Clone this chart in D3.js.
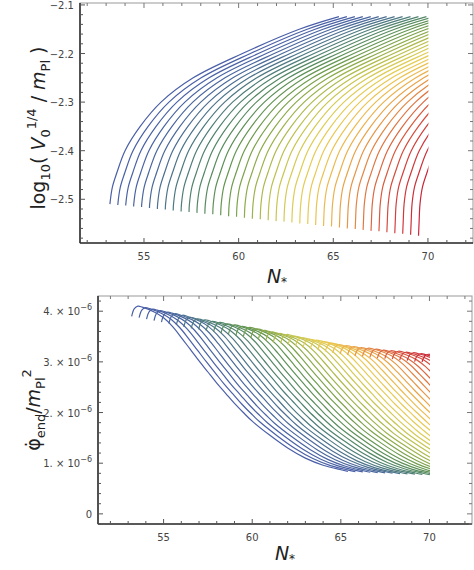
<!DOCTYPE html>
<html>
<head>
<meta charset="utf-8">
<script src="https://cdn.jsdelivr.net/npm/d3@7"></script>
<style>
  body { margin: 0; background: #fff; }
  text { font-family: "DejaVu Sans", sans-serif; }
</style>
</head>
<body>
<script>
// curve start offsets along N (one per curve, blue -> red)
const shifts = [0, 0.42, 0.84, 1.26, 1.68, 2.1, 2.52, 2.94, 3.36, 3.78, 4.2, 4.62, 5.04, 5.46, 5.88, 6.3,
  6.72, 7.14, 7.56, 7.98, 8.4, 8.82, 9.24, 9.66, 10.08, 10.5, 10.92, 11.34, 11.76, 12.18, 12.6, 13.02,
  13.44, 13.86, 14.28, 14.7, 15.12, 15.54, 15.96, 16.38];

// top panel: shape of the first curve [N, log10 V0^1/4]
const topShape = [[53.11, -2.585], [53.15, -2.55], [53.2, -2.51], [53.33, -2.475], [53.57, -2.445], [54.0, -2.4],
  [54.8, -2.35], [55.9, -2.3], [57.6, -2.25], [60.2, -2.2], [63.2, -2.15], [65.3, -2.124]];
// lowest value reached by each curve in top panel
const topBottom = [-2.51, -2.512, -2.513, -2.515, -2.516, -2.518, -2.52, -2.521, -2.523, -2.525, -2.526, -2.528,
  -2.53, -2.531, -2.533, -2.535, -2.536, -2.538, -2.54, -2.541, -2.543, -2.545, -2.546, -2.548, -2.55, -2.551,
  -2.553, -2.555, -2.556, -2.558, -2.56, -2.561, -2.563, -2.565, -2.566, -2.568, -2.57, -2.571, -2.573, -2.575];

// bottom panel: shape of the first curve [N, phidot (1e-6)]
const botShape = [[53.2, 3.9], [53.35, 4.05], [53.55, 4.1], [53.8, 4.08], [54.5, 3.98], [55, 3.87], [55.5, 3.7],
  [56, 3.48], [56.5, 3.25], [57, 3.02], [57.5, 2.8], [58, 2.58], [58.5, 2.38], [59, 2.18], [59.5, 2.0], [60, 1.83],
  [61, 1.55], [62, 1.3], [63, 1.1], [64, 0.96], [65, 0.87], [65.4, 0.84]];
// hook peak of each curve in bottom panel
const botPeak = [4.1, 4.07, 4.04, 4.01, 3.98, 3.95, 3.92, 3.88, 3.85, 3.83, 3.8, 3.78, 3.75, 3.73, 3.7, 3.68,
  3.65, 3.62, 3.59, 3.56, 3.54, 3.51, 3.48, 3.45, 3.43, 3.4, 3.37, 3.34, 3.32, 3.3, 3.28, 3.27, 3.25, 3.23,
  3.22, 3.21, 3.19, 3.18, 3.16, 3.15];

const xTicks = [55, 60, 65, 70];
const topYTicks = [-2.1, -2.2, -2.3, -2.4, -2.5];
const botYTicks = [0, 1, 2, 3, 4];

const colour = d3.interpolateRgbBasis(["#4a5fa8", "#4a66a2", "#4f8470", "#5f9548", "#bcc24c", "#f0d65a", "#eaa848", "#d8503e", "#c8283a"]);
const n = shifts.length;

const svg = d3.select("body").append("svg").attr("width", 474).attr("height", 570);

function panel(box, xDom, yDom, yTicks, fmt, curves, id) {
  const x = d3.scaleLinear().domain(xDom).range([box.l, box.r]);
  const y = d3.scaleLinear().domain(yDom).range([box.b, box.t]);
  const g = svg.append("g");
  g.append("clipPath").attr("id", id).append("rect")
    .attr("x", box.l).attr("y", box.t).attr("width", x(70) - box.l + 0.5).attr("height", box.b - box.t);
  g.append("rect").attr("x", box.l).attr("y", box.t).attr("width", box.r - box.l).attr("height", box.b - box.t)
    .attr("fill", "none").attr("stroke", "#999").attr("stroke-width", 1);
  const lines = g.append("g").attr("clip-path", `url(#${id})`);
  curves.forEach((c, i) => {
    lines.append("path").attr("d", d3.line().x(d => x(d[0])).y(d => y(d[1])).curve(d3.curveCatmullRom)(c))
      .attr("fill", "none").attr("stroke", colour(i / (n - 1))).attr("stroke-width", 1.2);
  });
  // axes
  g.append("line").attr("x1", box.l).attr("x2", box.r).attr("y1", box.b).attr("y2", box.b).attr("stroke", "#333").attr("stroke-width", 1.6);
  g.append("line").attr("x1", box.l).attr("x2", box.l).attr("y1", box.t).attr("y2", box.b).attr("stroke", "#333").attr("stroke-width", 1.6);
  d3.range(52, 73, 1).forEach(v => {
    const major = xTicks.includes(v);
    g.append("line").attr("x1", x(v)).attr("x2", x(v)).attr("y1", box.b).attr("y2", box.b - (major ? 5 : 3)).attr("stroke", "#555");
    g.append("line").attr("x1", x(v)).attr("x2", x(v)).attr("y1", box.t).attr("y2", box.t + (major ? 5 : 3)).attr("stroke", "#777");
  });
  xTicks.forEach(v => g.append("text").attr("x", x(v)).attr("y", box.b + 17).attr("text-anchor", "middle")
    .attr("font-size", 10).attr("fill", "#444").text(v));
  const step = (yTicks[1] - yTicks[0]) / 5;
  d3.range(0, 30).map(k => yTicks[0] - 5 * step + k * step).filter(v => v >= Math.min(...yDom) && v <= Math.max(...yDom)).forEach(v => {
    const major = yTicks.some(t => Math.abs(t - v) < 1e-9);
    g.append("line").attr("x1", box.l).attr("x2", box.l + (major ? 5 : 3)).attr("y1", y(v)).attr("y2", y(v)).attr("stroke", "#555");
    g.append("line").attr("x1", box.r).attr("x2", box.r - (major ? 5 : 3)).attr("y1", y(v)).attr("y2", y(v)).attr("stroke", "#777");
  });
  yTicks.forEach(v => fmt(g.append("text").attr("x", box.l - 6).attr("y", y(v) + 4).attr("text-anchor", "end")
    .attr("font-size", 10).attr("fill", "#444"), v));
  return { x, y };
}

// cut the shifted shape where it crosses the curve's lowest value
function cutBelow(shape, s, low) {
  const out = [];
  for (let k = 0; k < shape.length; k++) {
    const p = shape[k];
    if (p[1] >= low) {
      if (k > 0 && shape[k - 1][1] < low) {
        const q = shape[k - 1], f = (low - q[1]) / (p[1] - q[1]);
        out.push([q[0] + f * (p[0] - q[0]) + s, low]);
      }
      out.push([p[0] + s, p[1]]);
    }
  }
  return out;
}

// top panel curves
const topCurves = shifts.map((s, i) => cutBelow(topShape, s, topBottom[i]));
panel({ l: 80, r: 473, t: 3, b: 243 }, [51.62, 72.38], [-2.59, -2.096], topYTicks,
  (t, v) => t.text("\u2212" + Math.abs(v).toFixed(1)), topCurves, "c1");

// bottom panel curves
const botCurves = shifts.map((s, i) => botShape.map(p => [p[0] + s, p[1] * botPeak[i] / 4.1]));
panel({ l: 98, r: 472, t: 296, b: 524 }, [51.3, 72.4], [-0.2, 4.3], botYTicks, (t, v) => {
  if (v === 0) { t.text("0"); return; }
  t.append("tspan").text(v + ". \u00d7 10");
  t.append("tspan").attr("dy", -5).attr("font-size", 8).text("\u22126");
}, botCurves, "c2");

// axis titles
const tt = svg.append("text").attr("transform", "translate(45,128) rotate(-90)").attr("text-anchor", "middle")
  .attr("font-size", 19).attr("fill", "#222");
tt.append("tspan").text("log");
tt.append("tspan").attr("font-size", 13).attr("dy", 5).text("10");
tt.append("tspan").attr("dy", -5).text("( ");
tt.append("tspan").attr("font-style", "italic").text("V");
tt.append("tspan").attr("font-size", 13).attr("dy", 5).text("0");
tt.append("tspan").attr("font-size", 13).attr("dy", -14).text("1/4");
tt.append("tspan").attr("dy", 9).text(" / ");
tt.append("tspan").attr("font-style", "italic").text("m");
tt.append("tspan").attr("font-size", 13).attr("dy", 5).text("Pl");
tt.append("tspan").attr("dy", -5).text(" )");

const bt = svg.append("text").attr("transform", "translate(40,410) rotate(-90)").attr("text-anchor", "middle")
  .attr("font-size", 19).attr("fill", "#222");
bt.append("tspan").text("\u03c6\u0307");
bt.append("tspan").attr("font-size", 13).attr("dy", 5).text("end");
bt.append("tspan").attr("dy", -5).text("/");
bt.append("tspan").attr("font-style", "italic").text("m");
bt.append("tspan").attr("font-size", 13).attr("dy", 5).text("Pl");
bt.append("tspan").attr("font-size", 13).attr("dy", -14).text("2");

[[277, 283], [285, 560]].forEach(([x, y]) => {
  const t = svg.append("text").attr("x", x).attr("y", y).attr("text-anchor", "middle").attr("font-size", 19).attr("fill", "#222");
  t.append("tspan").attr("font-style", "italic").text("N");
  t.append("tspan").attr("font-size", 12).attr("dy", 3).text("*");
});
</script>
</body>
</html>
